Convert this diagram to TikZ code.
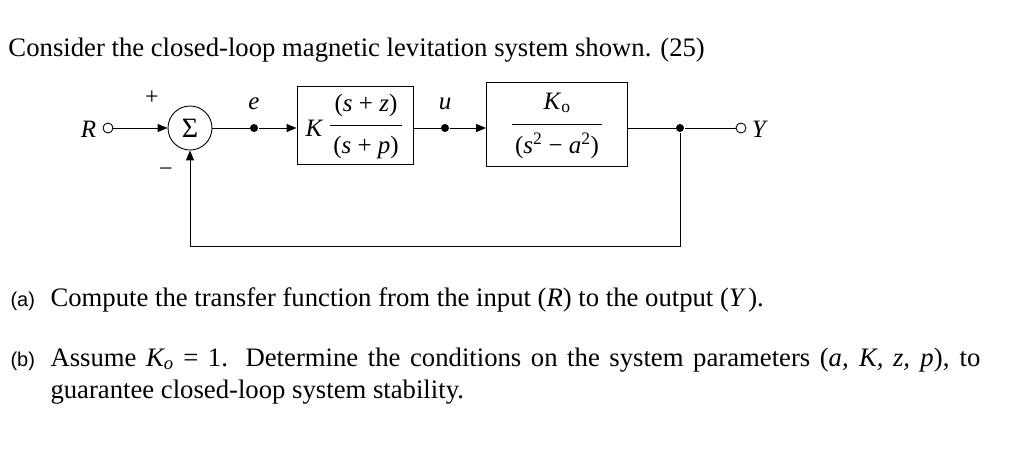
\documentclass[tikz,border=0pt]{standalone}
\usepackage{fontspec}
\setmainfont{Liberation Serif}
\setsansfont{Liberation Sans}
\usetikzlibrary{arrows.meta}
\begin{document}
\begin{tikzpicture}[x=1pt,y=-1pt,
  line width=1pt,
  blk/.style={draw,line width=0.9pt,minimum width=116pt,minimum height=78pt,inner sep=0pt},
  term/.style={draw,circle,fill=white,inner sep=0pt,minimum size=10pt,line width=0.9pt},
  dotn/.style={circle,fill,inner sep=0pt,minimum size=8pt},
  arr/.style={-{Triangle[length=10pt,width=8pt]}},
  lbl/.style={font=\fontsize{25}{26}\selectfont\itshape},
  mth/.style={font=\fontsize{25}{26}\selectfont,inner sep=0pt},
  txt/.style={anchor=base west,inner sep=0pt,font=\fontsize{26.7}{32}\selectfont},
  sf/.style={anchor=base west,inner sep=0pt,font=\sffamily\fontsize{20}{24}\selectfont}]
\useasboundingbox (0,0) rectangle (1030,451);
\node[txt] (title) at (8,56) {Consider the closed-loop magnetic levitation system shown. (25)};
% diagram
\node[term] (R) at (108,128) {};
\node[lbl,anchor=east] (Rl) at (100,129) {R};
\node[draw,circle,minimum size=44pt,inner sep=0pt,line width=0.9pt,font=\fontsize{28}{28}\selectfont] (S) at (190,128) {Σ};
\node[font=\fontsize{24}{24}\selectfont] (plus) at (152,98) {+};
\node[font=\fontsize{24}{24}\selectfont] (minus) at (166,172) {−};
\node[dotn] (e) at (254,128) {};
\node[lbl] (el) at (254,104) {e};
\node[blk] (G1) at (355,125) {};
\node[lbl] (K) at (314,128) {K};
\node[mth] (n1) at (366,105) {(\textit{s} + \textit{z})};
\node[mth] (d1) at (366,147) {(\textit{s} + \textit{p})};
\draw[line width=0.8pt] ([xshift=-3pt]d1.west|-G1.center) -- ([xshift=3pt]d1.east|-G1.center);
\node[dotn] (u) at (445,128) {};
\node[lbl] (ul) at (445,104) {u};
\node[blk,minimum width=141pt,minimum height=84pt] (G2) at (557,124) {};
\node[mth] (n2) at (557,103) {\textit{K}\textsubscript{o}};
\node[mth] (d2) at (557,146) {(\textit{s}\textsuperscript{2} − \textit{a}\textsuperscript{2})};
\draw[line width=0.8pt] ([xshift=-3pt]d2.west|-G2.center) -- ([xshift=3pt]d2.east|-G2.center);
\node[dotn] (j) at (680,128) {};
\node[term] (Y) at (741,128) {};
\node[lbl,anchor=west] (Yl) at (748,129) {Y};
\coordinate (c1) at (680,246);
\coordinate (c2) at (190,246);
\draw[arr] (R) -- (S);
\draw (S) -- (e);
\draw[arr] (e) -- (G1.west|-e);
\draw (G1.east|-u) -- (u);
\draw[arr] (u) -- (G2.west|-u);
\draw (G2.east|-j) -- (j) -- (Y);
\draw[arr] (j) -- (c1) -- (c2) -- (S.south);
% questions
\node[sf] (a) at (10,306) {(a)};
\node[txt] (qa) at (50,306) {Compute the transfer function from the input (\textit{R}) to the output (\textit{Y\,}).};
\node[sf] (b) at (10,366) {(b)};
\node[txt,text width=930pt,align=justify] (qb) at (50,366) {Assume \textit{K\textsubscript{o}} = 1. Determine the conditions on the system parameters (\textit{a, K, z, p}), to\linebreak guarantee closed-loop system stability.};
\end{tikzpicture}
\end{document}
